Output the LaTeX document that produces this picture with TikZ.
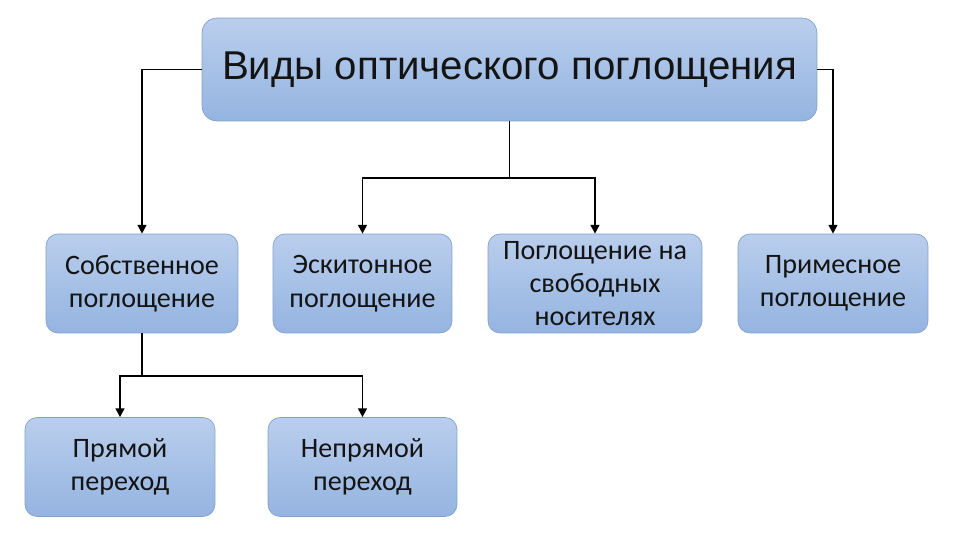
\documentclass[tikz,border=0pt]{standalone}
\usepackage{fontspec}
\setmainfont{Carlito}
\newfontfamily\titlefont{Liberation Sans}
\usetikzlibrary{arrows.meta, positioning}

\definecolor{boxtop}{RGB}{186,206,237}
\definecolor{boxbot}{RGB}{148,180,224}
\definecolor{boxline}{RGB}{128,160,206}

\tikzset{
  box/.style={draw=boxline, top color=boxtop, bottom color=boxbot,
    rounded corners=0.24cm, minimum height=1.98cm, inner sep=0pt,
    align=center, text=black!92, font=\fontsize{16}{19}\selectfont},
  link/.style={draw=black, line width=1.1pt},
  arr/.style={link, -{Triangle[length=5pt,width=5pt]}}
}

\begin{document}
\begin{tikzpicture}[x=0.02cm, y=-0.02cm]
  \useasboundingbox (0,0) rectangle (960,540);
  % top level
  \node[box, minimum width=12.3cm, minimum height=2.06cm, rounded corners=0.3cm,
    font=\titlefont\fontsize{22.9}{27}\selectfont] (title) at (509.5,69.5)
    {Виды оптического поглощения};
  % second level
  \node[box, minimum width=3.84cm] (own)   at (142,283.5) {Собственное\\поглощение};
  \node[box, minimum width=3.58cm] (exc)   at (362.5,283.5) {Эскитонное\\поглощение};
  \node[box, minimum width=4.28cm] (free)  at (595,283.5) {Поглощение на\\свободных\\носителях};
  \node[box, minimum width=3.80cm] (impur) at (833,283.5) {Примесное\\поглощение};
  % third level
  \node[box, minimum width=3.80cm] (direct)   at (120,467) {Прямой\\переход};
  \node[box, minimum width=3.78cm] (indirect) at (362.5,467) {Непрямой\\переход};
  % connectors
  \coordinate (j1) at (509.5,178);
  \coordinate (j2) at (142,376);
  \draw[arr] (title.west) -| (own.north);
  \draw[arr] (title.east) -| (impur.north);
  \draw[link] (title.south) -- (j1);
  \draw[arr] (j1) -| (exc.north);
  \draw[arr] (j1) -| (free.north);
  \draw[link] (own.south) -- (j2);
  \draw[arr] (j2) -| (direct.north);
  \draw[arr] (j2) -| (indirect.north);
\end{tikzpicture}
\end{document}
